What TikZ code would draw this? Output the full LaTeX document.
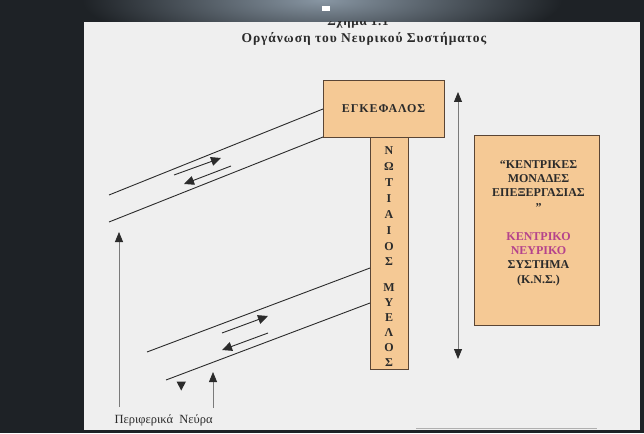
\documentclass[tikz,border=0pt]{standalone}
\usepackage{fontspec}
\setmainfont{Liberation Serif}
\usetikzlibrary{arrows.meta,calc}
\definecolor{bgdark}{HTML}{1E2226}
\definecolor{bglight}{HTML}{8896A3}
\definecolor{paper}{HTML}{EFEFEF}
\definecolor{boxfill}{HTML}{F5C995}
\definecolor{boxedge}{HTML}{5A4535}
\definecolor{inkc}{HTML}{2B2B2B}
\definecolor{magc}{HTML}{B5438C}
\definecolor{greyline}{HTML}{7A7A7A}
\begin{document}
\begin{tikzpicture}[x=1pt,y=-1pt,
 box/.style={draw=boxedge,line width=1pt,fill=boxfill,inner sep=0pt,outer sep=0pt},
 nerve/.style={draw=inkc,line width=0.9pt},
 flow/.style={draw=inkc,line width=0.9pt,-{Triangle[length=10pt,width=9pt]}},
 guide/.style={draw=greyline,line width=0.8pt,-{Triangle[length=10pt,width=8pt,color=inkc]}},
 boldtxt/.style={font=\bfseries\fontsize{12}{14.4}\selectfont,text=inkc},
]
\useasboundingbox (0,0) rectangle (644,433);
\fill[bgdark] (0,0) rectangle (644,433);
\shade[inner color=bglight,outer color=bgdark] (322,0) ellipse [x radius=240,y radius=52];
\fill[white] (322,6) rectangle (330,11);
\fill[paper] (84,22) rectangle (640,430);
\begin{scope}
\clip (84,22) rectangle (640,430);
\node[font=\bfseries\fontsize{13}{15}\selectfont\addfontfeature{LetterSpace=6},anchor=base,text=inkc] (fig) at (358,26) {Σχήμα 1.1};
\end{scope}
\node[font=\bfseries\fontsize{13.5}{16}\selectfont\addfontfeature{LetterSpace=7},anchor=base,text=inkc] (title) at (364,43) {Οργάνωση του Νευρικού Συστήματος};
% boxes
\node[box,minimum width=38pt,minimum height=232pt] (cord) at (389,253) {};
\node[box,boldtxt,font=\bfseries\fontsize{12}{14.4}\selectfont\addfontfeature{LetterSpace=8},minimum width=121pt,minimum height=56pt] (brain) at (383.5,109) {ΕΓΚΕΦΑΛΟΣ};
\foreach \l/\yy [count=\i] in {Ν/151,Ω/167,Τ/183,Ι/199,Α/215,Ι/231,Ο/247,Σ/262,Μ/288,Υ/303,Ε/318,Λ/333,Ο/348,Σ/363}
  \node[boldtxt,inner sep=0pt] (c\i) at (389,\yy) {\l};
\node[box,minimum width=125pt,minimum height=190pt] (cns) at (536.5,230) {};
\node[boldtxt,align=center] (cnstext) at (538.5,223) {“ΚΕΝΤΡΙΚΕΣ\\ΜΟΝΑΔΕΣ\\ΕΠΕΞΕΡΓΑΣΙΑΣ\\”\\[14.4pt]\textcolor{magc}{ΚΕΝΤΡΙΚΟ}\\\textcolor{magc}{ΝΕΥΡΙΚΟ}\\ΣΥΣΤΗΜΑ\\(Κ.Ν.Σ.)};
% nerves
\coordinate (u1) at (109,195);
\coordinate (u2) at (109,222);
\coordinate (l1) at (147,352);
\coordinate (l2) at (166,380);
\draw[nerve] (u1) -- (brain.west);
\draw[nerve] (u2) -- (brain.south west);
\draw[nerve] (l1) -- ([yshift=-131pt]cord.north west);
\draw[nerve] (l2) -- ([yshift=-166pt]cord.north west);
% small flow arrows
\coordinate (ua1s) at (174,175); \coordinate (ua1e) at (221,158);
\coordinate (ua2s) at (231,166); \coordinate (ua2e) at (184,184);
\coordinate (la1s) at (222,333); \coordinate (la1e) at (268,316);
\coordinate (la2s) at (268,333); \coordinate (la2e) at (222,350);
\draw[flow] (ua1s) -- (ua1e);
\draw[flow] (ua2s) -- (ua2e);
\draw[flow] (la1s) -- (la1e);
\draw[flow] (la2s) -- (la2e);
\fill[inkc] (176.5,381.5) -- (186,381.5) -- (181.25,390.5) -- cycle;
% guide arrows
\coordinate (p1b) at (119,407); \coordinate (p1t) at (119,232);
\coordinate (p2b) at (213,408); \coordinate (p2t) at (213,372);
\draw[guide] (p1b) -- (p1t);
\draw[guide] (p2b) -- (p2t);
\coordinate (v1) at (458,92); \coordinate (v2) at (458,359);
\draw[greyline,line width=0.8pt,{Triangle[length=10pt,width=8pt,color=inkc]}-{Triangle[length=10pt,width=8pt,color=inkc]}] (v1) -- (v2);
\node[font=\fontsize{12.5}{14}\selectfont,anchor=base west,text=inkc] (pn) at (111,423) {Περιφερικά\ \ Νεύρα};
\draw[greyline!60,line width=0.6pt] (416,428.5) -- (597,428.5);
\end{tikzpicture}
\end{document}
